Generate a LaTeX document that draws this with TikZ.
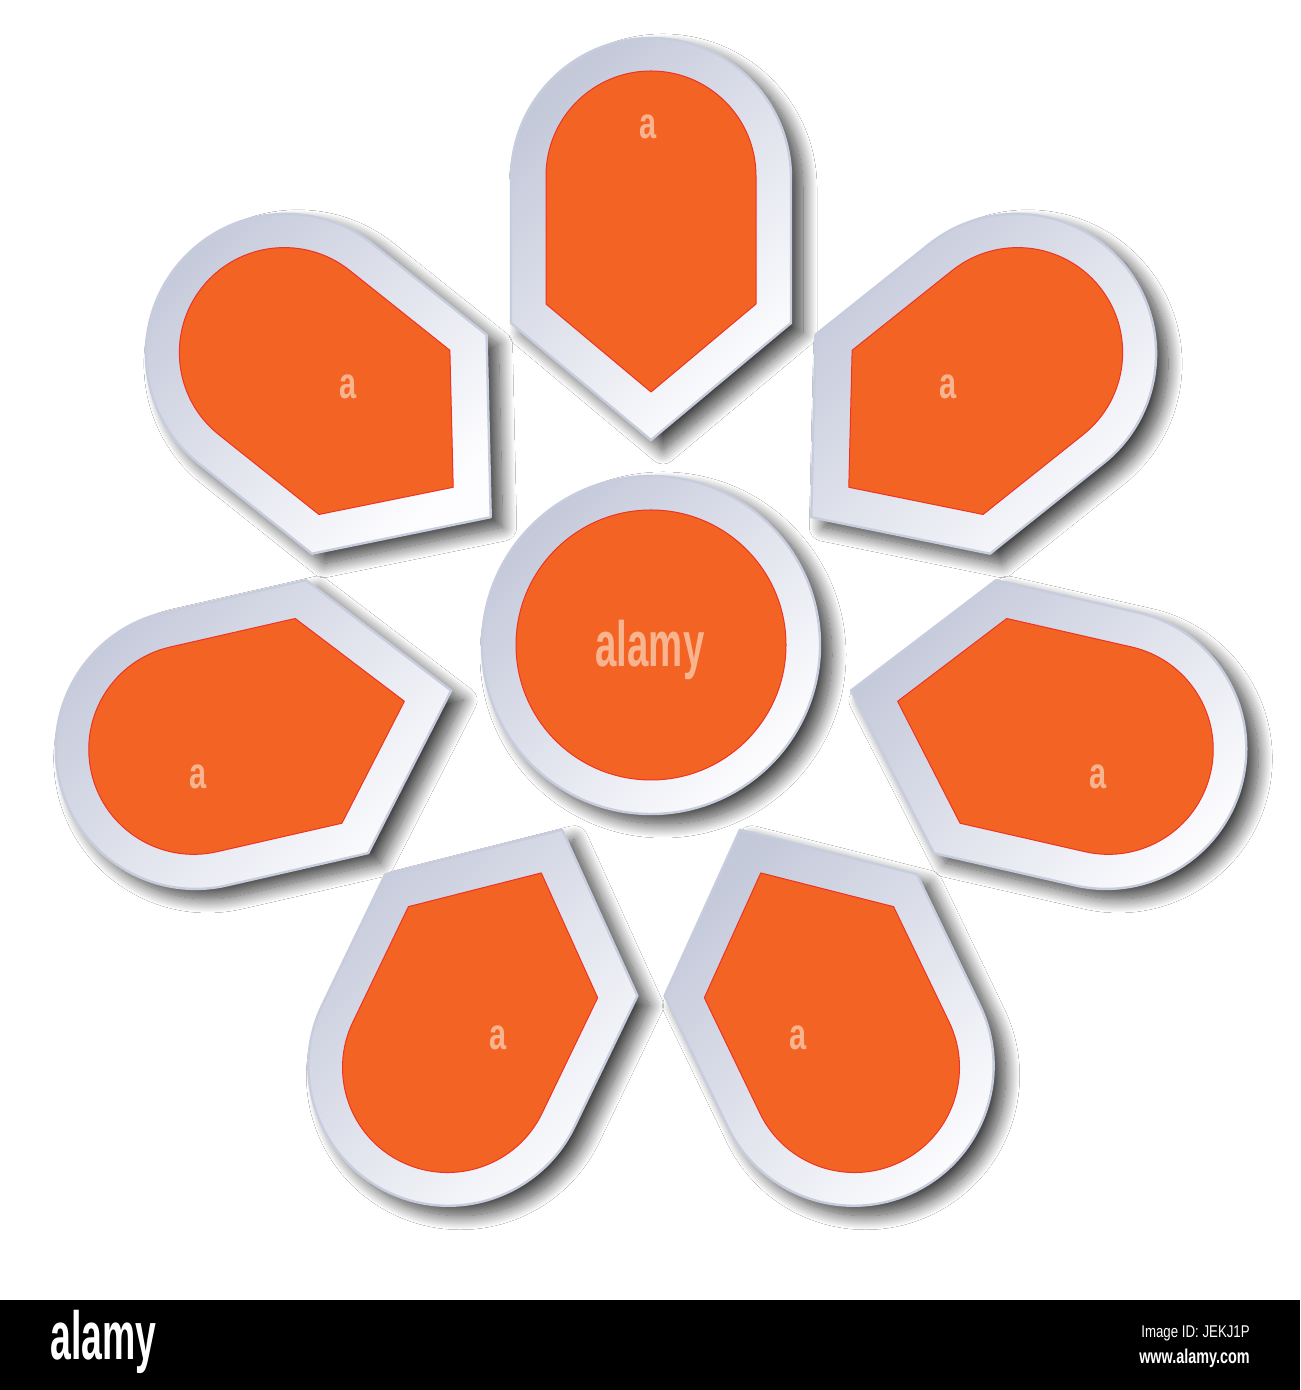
\documentclass[tikz,border=0pt]{standalone}
\usepackage{fontspec}
\setmainfont{Liberation Sans}
\usetikzlibrary{shadows.blur}
\definecolor{orng}{RGB}{243,99,35}
\definecolor{orngedge}{RGB}{236,52,38}
\definecolor{rimdark}{RGB}{196,201,218}
\definecolor{rimlight}{RGB}{253,253,255}
\definecolor{rimline}{RGB}{200,205,222}
\definecolor{wmark}{RGB}{248,180,142}
\def\cx{651}
\def\cy{745}
% petal outline: #1 angle, #2 tip distance, #3 shoulder distance, #4 half width, #5 arc centre distance
\def\petalpath#1#2#3#4#5{%
 ({\cx+#2*cos(#1)},{\cy+#2*sin(#1)})
 -- ({\cx+#3*cos(#1)-#4*sin(#1)},{\cy+#3*sin(#1)+#4*cos(#1)})
 -- ({\cx+#5*cos(#1)-#4*sin(#1)},{\cy+#5*sin(#1)+#4*cos(#1)})
 arc[start angle=#1+90, end angle=#1-90, radius=#4*0.5pt]
 -- ({\cx+#3*cos(#1)+#4*sin(#1)},{\cy+#3*sin(#1)-#4*cos(#1)})
 -- cycle}
\tikzset{
 rim/.style={top color=rimdark, bottom color=rimlight, shading angle=45,
   draw=rimline, line width=1.2pt, line join=round,
   blur shadow={shadow xshift=6pt, shadow yshift=-5pt, shadow blur radius=7pt, shadow blur steps=20, shadow opacity=75}},
 core/.style={fill=orng, draw=orngedge, line width=0.5pt, line join=round},
 wmtext/.style={text=wmark, font=\bfseries\fontsize{22}{22}\selectfont, xscale=0.7, inner sep=0pt},
}
\begin{document}
\begin{tikzpicture}[x=0.5pt,y=0.5pt]
\useasboundingbox (0,0) rectangle (1300,1390);
\fill[white] (0,0) rectangle (1300,1390);
% petals
\foreach \k in {0,...,6}{
  \pgfmathsetmacro\ang{90+\k*360/7}
  \path[rim] \petalpath{\ang}{205}{322}{140}{467};
  \path[core] \petalpath{\ang}{253}{341}{105}{469};
}
% centre
\path[rim] (\cx,\cy) circle[radius=84.5pt];
\path[core] (\cx,\cy) circle[radius=67.5pt];
% watermark letters
\node[wmtext] (wa1) at (648,1263) {a};
\node[wmtext] (wa2) at (948,1003) {a};
\node[wmtext] (wa3) at (348,1003) {a};
\node[wmtext] (wa4) at (198,613) {a};
\node[wmtext] (wa5) at (1098,613) {a};
\node[wmtext] (wa6) at (498,352) {a};
\node[wmtext] (wa7) at (798,352) {a};
\node[text=wmark, font=\bfseries\fontsize{32}{32}\selectfont, xscale=0.6, inner sep=0pt] (wcentre) at (650,740) {alamy};
% bottom bar
\fill[black] (0,0) rectangle (1300,90);
\node[text=white, font=\bfseries\fontsize{34}{34}\selectfont, xscale=0.55, inner sep=0pt, anchor=west] (logo) at (50,48) {alamy};
\node[text=white, font=\fontsize{8.5}{8.5}\selectfont, xscale=0.78, inner sep=0pt, anchor=east] (imgid) at (1250,57) {Image ID: JEKJ1P};
\node[text=white, font=\bfseries\fontsize{10}{10}\selectfont, xscale=0.72, inner sep=0pt, anchor=east] (www) at (1250,32) {www.alamy.com};
\end{tikzpicture}
\end{document}
